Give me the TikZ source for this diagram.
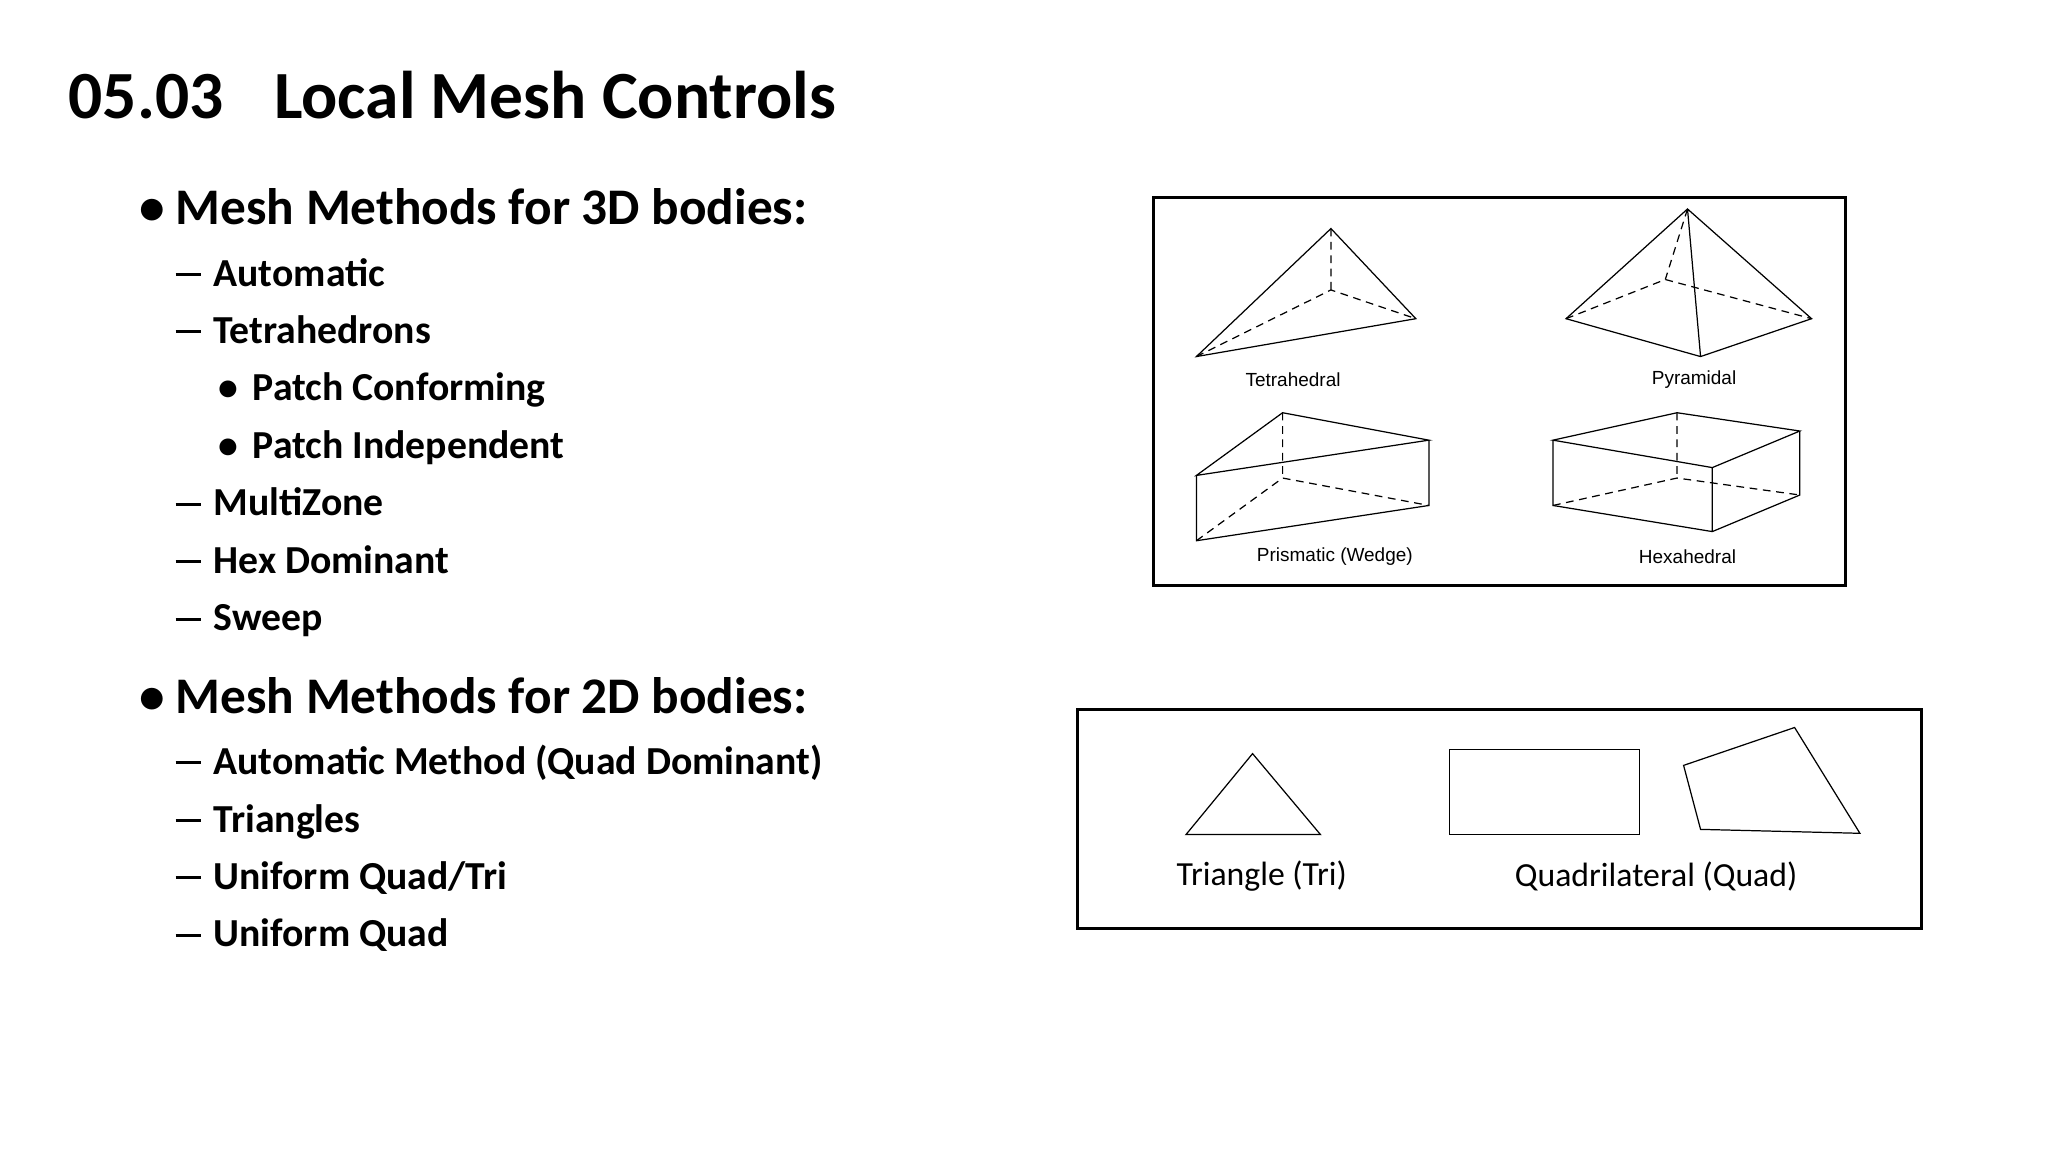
\documentclass[tikz,border=0pt]{standalone}
\usepackage{fontspec}
\setmainfont{Carlito}
\newfontfamily\arialf{Liberation Sans}
\newcommand{\mydash}{\rule[2.9pt]{7.2pt}{0.9pt}}
\begin{document}
\begin{tikzpicture}[x=0.013061cm,y=-0.013061cm,
  ttl/.style={anchor=base west,inner sep=0pt,font=\fontsize{19.2}{22}\selectfont\bfseries},
  lone/.style={anchor=base west,inner sep=0pt,font=\fontsize{14.6}{17}\selectfont\bfseries},
  ltwo/.style={anchor=base west,inner sep=0pt,font=\fontsize{11.3}{13}\selectfont\bfseries},
  small/.style={inner sep=0pt,font=\arialf\fontsize{5.4}{6}\selectfont},
  lbl/.style={inner sep=0pt,font=\fontsize{9.6}{11}\selectfont},
  frame/.style={draw,line width=0.8pt},
  edge/.style={line width=0.35pt},
  hid/.style={line width=0.35pt,dash pattern=on 2.2pt off 1.6pt}]
\useasboundingbox (0,0) rectangle (1568,882);
\node[ttl] (t) at (52,91) {05.03\hspace{0.75em}Local Mesh Controls};
\node[lone] (bb1) at (106,172) {\textbullet};
\node[lone] (b1) at (134,172) {Mesh Methods for 3D bodies:};
\foreach \y/\s in {219/Automatic,263/Tetrahedrons,395/MultiZone,439/Hex Dominant,483/Sweep}
  {\node[ltwo] at (134,\y) {\mydash}; \node[ltwo] at (163,\y) {\s};}
\foreach \y/\s in {307/Patch Conforming,351/Patch Independent}
  {\node[ltwo] at (167,\y) {\textbullet}; \node[ltwo] at (193,\y) {\s};}
\node[lone] (bb2) at (106,546) {\textbullet};
\node[lone] (b2) at (134,546) {Mesh Methods for 2D bodies:};
\foreach \y/\s in {593/{Automatic Method (Quad Dominant)},637/Triangles,681/{Uniform Quad/Tri},725/Uniform Quad}
  {\node[ltwo] at (134,\y) {\mydash}; \node[ltwo] at (163,\y) {\s};}
% 3D box
\draw[frame] (883,151) rectangle (1413,448);
\draw[edge] (916,273)--(1019,175)--(1084,244)--cycle;
\draw[hid] (1019,175)--(1019,222) (916,273)--(1019,222)--(1084,244);
\draw[edge] (1199,244)--(1292,160)--(1387,244)--(1302,273)--cycle (1292,160)--(1302,273);
\draw[hid] (1292,160)--(1275,214) (1199,244)--(1275,214)--(1387,244);
\draw[edge] (916,364)--(982,316)--(1094,337)--cycle (916,364)--(916,414)--(1094,387)--(1094,337);
\draw[hid] (982,316)--(982,366) (916,414)--(982,366)--(1094,387);
\draw[edge] (1189,337)--(1284,316)--(1378,330)--(1311,358)--cycle
  (1189,337)--(1189,387)--(1311,407)--(1378,379)--(1378,330) (1311,358)--(1311,407);
\draw[hid] (1284,316)--(1284,366) (1189,387)--(1284,366)--(1378,379);
\node[small] (l1) at (990,291) {Tetrahedral};
\node[small] (l2) at (1297,291) {Pyramidal};
\node[small] (l3) at (1022,426) {Prismatic (Wedge)};
\node[small] (l4) at (1292,426) {Hexahedral};
% 2D box
\draw[frame] (825,543) rectangle (1471,711);
\draw[edge] (908,639)--(959,577)--(1011,639)--cycle;
\draw[edge] (1110,574) rectangle (1255,639);
\draw[edge] (1289,586)--(1374,557)--(1424,638)--(1302,635)--cycle;
\node[lbl] (l5) at (966,671) {Triangle (Tri)};
\node[lbl] (l6) at (1268,671) {Quadrilateral (Quad)};
\end{tikzpicture}
\end{document}
